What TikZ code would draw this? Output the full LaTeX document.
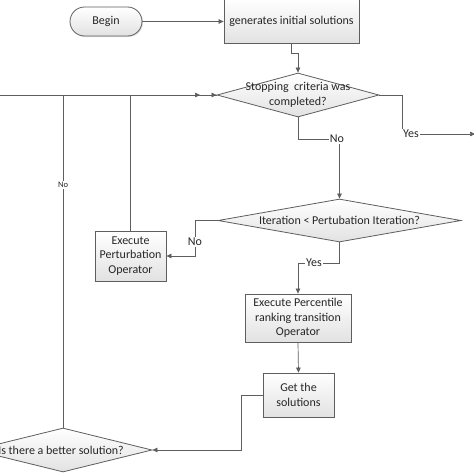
\documentclass[tikz,border=0pt]{standalone}
\usepackage{fontspec}
\setmainfont{Carlito}
\usetikzlibrary{shapes.geometric,arrows.meta,shadows,calc}
\definecolor{linec}{HTML}{5E5E5E}
\definecolor{txtc}{HTML}{262626}
\definecolor{fillb}{HTML}{E2E2E2}
\tikzset{
  every node/.style={text=txtc,font=\fontsize{12}{14.5}\selectfont},
  boxst/.style={draw=linec,line width=0.8pt,top color=white,bottom color=fillb,
    drop shadow={shadow xshift=1pt,shadow yshift=-1pt,opacity=0.25},
    inner sep=0pt,align=center},
  diast/.style={diamond,draw=linec,line width=0.8pt,top color=white,bottom color=fillb,inner sep=0pt},
  conn/.style={draw=linec,line width=0.7pt},
  arr/.style={conn,-{Triangle[length=5pt,width=4.5pt]}},
  lbl/.style={fill=white,inner sep=1pt}
}
\begin{document}
\begin{tikzpicture}[x=1pt,y=-1pt]
\useasboundingbox (0,0) rectangle (474,474);
\clip (0,0) rectangle (474,474);
\fill[white] (0,0) rectangle (474,474);
% nodes
\node[boxst,rounded corners=14.5pt,minimum width=72pt,minimum height=29pt] (begin) at (106,21.5) {Begin};
\node[boxst,minimum width=135pt,minimum height=44pt] (init) at (291.5,21) {generates initial solutions};
\node[diast,minimum width=162pt,minimum height=44pt] (d1) at (298,95) {};
\node (d1t) at (298,95) {\begin{tabular}{@{}c@{}}Stopping\ \ criteria was\\completed?\end{tabular}};
\node[diast,minimum width=243pt,minimum height=43pt] (d2) at (339.5,220.5) {};
\node (d2t) at (339.5,220.5) {Iteration < Pertubation Iteration?};
\node[boxst,minimum width=71pt,minimum height=50pt] (pert) at (130.5,256) {Execute\\Perturbation\\Operator};
\node[boxst,minimum width=106pt,minimum height=48pt] (perc) at (298,318) {Execute Percentile\\ranking transition\\Operator};
\node[boxst,minimum width=71pt,minimum height=44pt] (get) at (298.5,395) {Get the\\solutions};
\node[diast,minimum width=178pt,minimum height=44pt] (d3) at (63,450) {};
\node (d3t) at (61,450) {Is there a better solution?};
% free ends
\coordinate (lefte) at (-3,95);
\coordinate (righte) at (475,134);
\coordinate (loopmid) at (200,95);
% connectors
\draw[arr] (begin.east) -- (init.west |- begin.east);
\draw[arr] (init.south) -- (291.5,53) -- (298,53) -- (d1.north);
\draw[conn] (lefte) -- (d1.west);
\draw[arr] (pert.north) |- (loopmid);
\draw[arr] (d3.north) |- (d1.west);
\draw[arr] (d1.east) -- (402,95) -- (402,134) -- (righte);
\node[lbl] (yes1) at (411,134) {Yes};
\draw[arr] (d1.south) -- (298,139) -- (339.5,139) -- (d2.north);
\node[lbl] (no1) at (337,139) {No};
\draw[arr] (d2.west) -- (195,220.5) -- (195,256) -- (pert.east);
\node[lbl] (no2) at (195,242) {No};
\draw[arr] (d2.south) -- (339.5,263) -- (298,263) -- (perc.north);
\node[lbl] (yes2) at (314,263) {Yes};
\draw[arr] (perc.south) -- (get.north);
\draw[arr] (get.west) -- (241,395) -- (241,450) -- (d3.east);
\node[lbl,font=\fontsize{8.5}{10}\selectfont] (no3) at (63,185) {No};
\end{tikzpicture}
\end{document}
